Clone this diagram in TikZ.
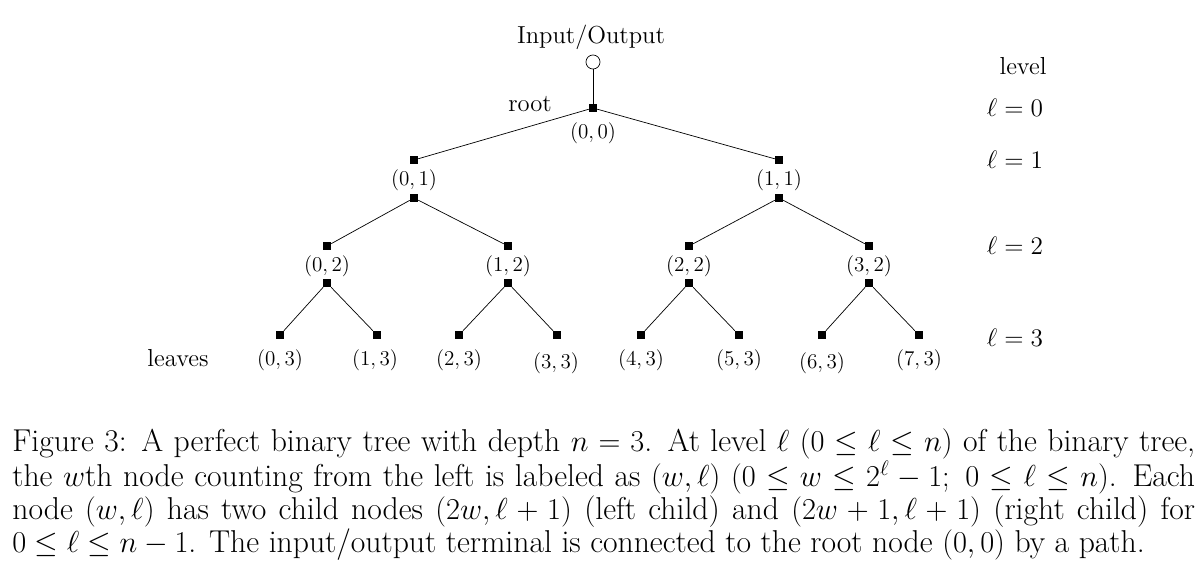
\documentclass[tikz,border=0pt]{standalone}
\usepackage{amsmath}
\begin{document}
\begin{tikzpicture}[x=0.02cm,y=-0.02cm,
  vertex/.style={fill,inner sep=0pt,minimum size=4.4pt},
  lbl/.style={font=\fontsize{11.5}{13}\selectfont},
  side/.style={font=\fontsize{14}{16}\selectfont}]
\useasboundingbox (0,0) rectangle (1200,588);

% terminal and root
\node[draw,circle,inner sep=0pt,minimum size=8pt] (io) at (593,62) {};
\node[side] at (591,37) {Input/Output};
\node[vertex] (n00) at (593,108) {};
\draw (io) -- (n00);
\node[side] at (530,104) {root};
\node[lbl] at (593,133) {$(0,0)$};

% levels 1 to 3 (inner nodes: top and bottom square around the label)
\node[vertex] (n01) at (414,160) {};
\node[vertex] (m01) at (414,198) {};
\node[vertex] (n11) at (779,160) {};
\node[vertex] (m11) at (779,198) {};
\foreach \w/\x in {0/327,1/508,2/689,3/869} {
  \node[vertex] (n\w2) at (\x,246) {};
  \node[vertex] (m\w2) at (\x,283) {};
}
\foreach \w/\x in {0/280,1/377,2/459,3/557,4/641,5/739,6/822,7/919}
  \node[vertex] (n\w3) at (\x,335) {};

% edges
\draw (n00) -- (n01);
\draw (n00) -- (n11);
\foreach \p/\a/\b in {0/0/1,1/2/3} {
  \draw (m\p1) -- (n\a2);
  \draw (m\p1) -- (n\b2);
}
\foreach \p/\a/\b in {0/0/1,1/2/3,2/4/5,3/6/7} {
  \draw (m\p2) -- (n\a3);
  \draw (m\p2) -- (n\b3);
}

% node labels
\node[lbl] at (414,180) {$(0,1)$};
\node[lbl] at (779,180) {$(1,1)$};
\foreach \w/\x in {0/327,1/508,2/689,3/869}
  \node[lbl] at (\x,266) {$(\w,2)$};
\foreach \w/\x/\y in {0/280/360,1/375/360,2/459/360,3/556/363,4/641/360,5/739/360,6/822/363,7/919/360}
  \node[lbl] at (\x,\y) {$(\w,3)$};
\node[side] at (178,358) {leaves};

% level column
\node[side] at (1023,66) {level};
\foreach \l/\y in {0/108,1/160,2/246,3/338}
  \node[side] at (1015,\y) {$\ell=\l$};

% caption
\node[anchor=north west,inner sep=0pt,text width=23.66cm,align=justify,
  font=\fontsize{18}{17.1}\selectfont] (cap) at (12,428) {Figure 3: A perfect binary tree with depth $n=3$. At level $\ell$ $(0\le\ell\le n)$ of the binary tree, the $w$th node counting from the left is labeled as $(w,\ell)$ $(0\le w\le 2^{\ell}-1;\ 0\le\ell\le n)$. Each node $(w,\ell)$ has two child nodes $(2w,\ell+1)$ (left child) and $(2w+1,\ell+1)$ (right child) for $0\le\ell\le n-1$. The input/output terminal is connected to the root node $(0,0)$ by a path.};
\end{tikzpicture}
\end{document}
